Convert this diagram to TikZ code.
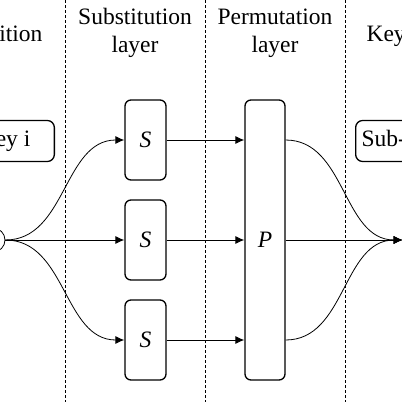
\documentclass[tikz,border=0pt]{standalone}
\usepackage{fontspec}
\setmainfont{Liberation Serif}
\usetikzlibrary{arrows.meta}
\begin{document}
\begin{tikzpicture}[x=1pt,y=-1pt,
  every node/.style={font=\fontsize{23.5}{28}\selectfont},
  box/.style={draw,line width=1.3pt,rounded corners=6pt,inner sep=0pt},
  keybox/.style={draw,line width=1.3pt,rounded corners=7pt,minimum height=41pt,inner ysep=0pt},
  conn/.style={line width=0.8pt,-{Latex[length=9pt,width=8pt]}},
  sepline/.style={dash pattern=on 3pt off 2pt,line width=0.8pt},
  hdr/.style={align=center}]
\useasboundingbox (0,0) rectangle (402,402);
\clip (0,0) rectangle (402,402);
% separators
\draw[sepline] (65,0) -- (65,402);
\draw[sepline] (205,0) -- (205,402);
\draw[sepline] (345,0) -- (345,402);
% headers
\node[hdr,anchor=base east] (h0) at (46,41) {Key addition};
\node[hdr] (h1) at (135,33) {Substitution\\layer};
\node[hdr] (h2) at (275,33) {Permutation\\layer};
\node[hdr,anchor=base west] (h3) at (363,41) {Key addition};
% key boxes
\node[keybox,anchor=east,inner xsep=24pt] (k0) at (55,141) {Sub-key i};
\node[keybox,anchor=west,inner xsep=6pt] (k1) at (355,141) {Sub-key i+1};
% S boxes
\node[box,minimum width=41pt,minimum height=80pt] (s1) at (145.5,140) {\textit{S}};
\node[box,minimum width=41pt,minimum height=80pt] (s2) at (145.5,240) {\textit{S}};
\node[box,minimum width=41pt,minimum height=80pt] (s3) at (145.5,340) {\textit{S}};
% P box
\node[box,minimum width=40pt,minimum height=280pt] (p) at (265,240) {\textit{P}};
% xor circles
\node[draw,circle,minimum size=24pt,line width=0.8pt,inner sep=0pt] (xl) at (-7,240) {};
\node[draw,circle,minimum size=24pt,line width=0.8pt,inner sep=0pt] (xr) at (415,240) {};
% connectors
\draw[conn] (xl.east) to[out=0,in=180] (s1.west);
\draw[conn] (xl.east) -- (s2.west);
\draw[conn] (xl.east) to[out=0,in=180] (s3.west);
\draw[conn] (s1.east) -- (p.west |- s1.east);
\draw[conn] (s2.east) -- (p.west |- s2.east);
\draw[conn] (s3.east) -- (p.west |- s3.east);
\draw[conn] (p.east |- s1.east) to[out=0,in=180] (xr.west);
\draw[conn] (p.east |- s2.east) -- (xr.west);
\draw[conn] (p.east |- s3.east) to[out=0,in=180] (xr.west);
\end{tikzpicture}
\end{document}
